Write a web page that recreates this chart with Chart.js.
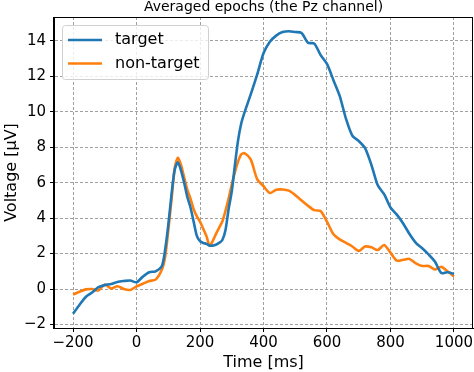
<!DOCTYPE html>
<html>
<head>
<meta charset="utf-8">
<script src="https://cdn.jsdelivr.net/npm/chart.js@4.4.1/dist/chart.umd.min.js"></script>
<style>
  body { margin: 0; background: #fff; }
  canvas { display: block; }
</style>
</head>
<body>
<canvas id="erpChart" width="474" height="372"></canvas>
<script>
// 時間軸 (ms) - ピーク付近だけ細かく
const times = [
  -200, -180, -160, -140, -120, -100, -80, -60, -40, -20, 0, 20, 40, 60, 80,
  90, 100, 110, 120, 130, 140, 150, 160, 170, 180, 190, 200, 210, 220, 230,
  240, 250, 260, 270, 280, 290, 300, 310, 320, 330, 340,
  360, 380, 400, 420, 440, 460, 480, 500, 520, 540, 560, 580, 600, 620, 640,
  660, 680, 700, 720, 740, 760, 780, 800, 820, 840, 860, 880, 900, 920, 940,
  960, 980, 1000
];

// target の平均波形 (μV)
const targetValues = [
  -1.40, -0.90, -0.45, -0.20, 0.10, 0.22, 0.28, 0.40, 0.45, 0.48, 0.38, 0.70, 0.95, 1.00, 1.30,
  2.20, 3.60, 5.30, 6.70, 7.15, 6.70, 6.00, 5.20, 4.60, 3.80, 3.00, 2.70, 2.60, 2.55, 2.45,
  2.45, 2.50, 2.60, 2.75, 3.30, 4.50, 5.50, 7.00, 8.40, 9.35, 9.95,
  11.00, 12.10, 13.30, 13.95, 14.30, 14.50, 14.55, 14.50, 14.45, 13.90, 13.85, 13.20, 12.70, 11.80, 10.90,
  9.60, 8.65, 8.35, 7.95, 7.00, 5.85, 5.35, 4.60, 4.20, 3.70, 3.10, 2.60, 2.30, 1.95, 1.55,
  0.90, 0.95, 0.85
];

// non-target の平均波形 (μV)
const nonTargetValues = [
  -0.31, -0.15, -0.02, 0.00, -0.08, 0.25, 0.02, 0.16, 0.00, -0.05, 0.15, 0.30, 0.45, 0.53, 1.10,
  1.80, 3.30, 5.00, 6.80, 7.40, 7.00, 6.30, 5.60, 5.10, 4.50, 4.10, 3.80, 3.40, 3.00, 2.45,
  2.70, 3.10, 3.45, 3.80, 4.40, 5.10, 5.90, 6.60, 7.20, 7.60, 7.67,
  7.30, 6.20, 5.80, 5.42, 5.60, 5.62, 5.55, 5.30, 5.00, 4.70, 4.45, 4.40, 3.80, 3.10, 2.80,
  2.60, 2.40, 2.15, 2.40, 2.35, 2.20, 2.48, 2.05, 1.60, 1.65, 1.70, 1.45, 1.30, 1.30, 1.10,
  1.25, 1.00, 0.70
];

// 目盛り
const xTicks = [-200, 0, 200, 400, 600, 800, 1000];
const yTicks = [-2, 0, 2, 4, 6, 8, 10, 12, 14];

const seriesNames = ["target", "non-target"];
const seriesColors = ["#1f77b4", "#ff7f0e"];

Chart.defaults.font.family = "'DejaVu Sans', sans-serif";
Chart.defaults.color = "#000";

function toPoints(values) {
  return values.map((v, i) => ({ x: times[i], y: v }));
}

// matplotlib風のマイナス記号 (カンマ区切りなし)
function tickLabel(value) {
  return value < 0 ? "\u2212" + Math.abs(value) : String(value);
}

// タイトル・枠・凡例は自前で描く
const extrasPlugin = {
  id: "extras",
  afterDatasetsDraw(chart) {
    const ctx = chart.ctx;
    const area = chart.chartArea;
    ctx.save();

    // 枠線 (4辺)
    ctx.strokeStyle = "#000";
    ctx.lineWidth = 1;
    const l = Math.round(area.left) - 0.5;
    const t = Math.round(area.top) + 0.5;
    const r = Math.round(area.right) - 0.5;
    const b = Math.round(area.bottom) + 0.5;
    ctx.strokeRect(l, t, r - l, b - t);

    // 凡例
    const boxX = 62, boxY = 25, boxW = 146, boxH = 54;
    ctx.fillStyle = "rgba(255,255,255,0.8)";
    ctx.strokeStyle = "#d0d0d0";
    ctx.beginPath();
    ctx.roundRect(boxX + 0.5, boxY + 0.5, boxW, boxH, 3);
    ctx.fill();
    ctx.stroke();

    ctx.font = "16px 'DejaVu Sans'";
    ctx.textBaseline = "middle";
    ctx.textAlign = "left";
    seriesNames.forEach((name, i) => {
      const y = 40 + i * 23.5;
      ctx.strokeStyle = seriesColors[i];
      ctx.lineWidth = 2.5;
      ctx.beginPath();
      ctx.moveTo(68, y);
      ctx.lineTo(102, y);
      ctx.stroke();
      ctx.fillStyle = "#000";
      ctx.fillText(name, 115, y);
    });

    // タイトル
    ctx.font = "14px 'DejaVu Sans'";
    ctx.textAlign = "center";
    ctx.textBaseline = "alphabetic";
    ctx.fillText("Averaged epochs (the Pz channel)", (area.left + area.right) / 2, 10.5);

    ctx.restore();
  }
};

const ctx = document.getElementById("erpChart").getContext("2d");
const erpChart = new Chart(ctx, {
  type: "line",
  data: {
    datasets: [
      {
        label: seriesNames[0],
        data: toPoints(targetValues),
        borderColor: seriesColors[0],
        borderWidth: 2.6,
        pointRadius: 0,
        tension: 0.25
      },
      {
        label: seriesNames[1],
        data: toPoints(nonTargetValues),
        borderColor: seriesColors[1],
        borderWidth: 2.6,
        pointRadius: 0,
        tension: 0.25
      }
    ]
  },
  options: {
    responsive: false,
    animation: false,
    layout: { padding: { top: 17, right: 1, left: 0, bottom: 0 }, autoPadding: false },
    plugins: {
      legend: { display: false },
      title: { display: false },
      tooltip: { enabled: false }
    },
    scales: {
      x: {
        type: "linear",
        min: -260,
        max: 1060,
        afterBuildTicks: scale => { scale.ticks = xTicks.map(v => ({ value: v })); },
        afterFit: scale => {
          scale.height = 44;
          scale.paddingLeft = 0;
          scale.paddingRight = 0;
        },
        ticks: { font: { size: 15 }, padding: 2, autoSkip: false, maxRotation: 0, color: "#000", callback: tickLabel },
        grid: {
          color: "#a0a0a0",
          lineWidth: 1,
          tickColor: "#000",
          tickLength: 4,
          tickBorderDash: []
        },
        border: { display: true, color: "#000", dash: [3, 2] },
        title: { display: true, text: "Time [ms]", font: { size: 16 }, padding: { top: 0, bottom: 0 }, color: "#000" }
      },
      y: {
        type: "linear",
        min: -2.2,
        max: 15.35,
        afterBuildTicks: scale => { scale.ticks = yTicks.map(v => ({ value: v })); },
        afterFit: scale => {
          scale.width = 54;
          scale.paddingTop = 0;
          scale.paddingBottom = 0;
        },
        ticks: { font: { size: 15 }, padding: 4, autoSkip: false, color: "#000", callback: tickLabel },
        grid: {
          color: "#a0a0a0",
          lineWidth: 1,
          tickColor: "#000",
          tickLength: 4,
          tickBorderDash: []
        },
        border: { display: true, color: "#000", dash: [3, 2] },
        title: { display: true, text: "Voltage [μV]", font: { size: 16 }, padding: { top: 2, bottom: 0 }, color: "#000" }
      }
    }
  },
  plugins: [extrasPlugin]
});
</script>
</body>
</html>
